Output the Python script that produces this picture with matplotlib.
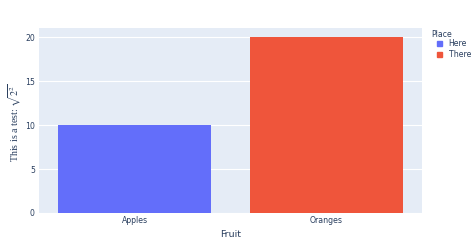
import matplotlib
matplotlib.use("Agg")
import matplotlib.pyplot as plt
from matplotlib.patches import Patch

plt.rcParams["mathtext.fontset"] = "stix"

fruits = ["Apples", "Oranges"]
places = ["Here", "There"]
amounts = [10, 20]
colors = ["#636efa", "#EF553B"]


def main() -> None:
    fig = plt.figure(figsize=(4.74, 2.52), dpi=100)
    ax = fig.add_axes([0.0823, 0.155, 0.808, 0.734])
    ax.set_facecolor("#E5ECF6")

    ax.bar(fruits, amounts, width=0.8, color=colors, zorder=2)
    ax.set_xlim(-0.5, 1.5)
    ax.set_ylim(0, 21.05)
    ax.set_yticks([0, 5, 10, 15, 20])
    ax.yaxis.grid(True, color="white", linewidth=0.8, zorder=0)
    for s in ax.spines.values():
        s.set_visible(False)
    ax.tick_params(length=0, labelsize=5.6, colors="#2a3f5f", pad=3)
    ax.tick_params(axis="x", pad=2)

    ax.set_xlabel("Fruit", fontsize=6.8, color="#2a3f5f", labelpad=4)
    ax.set_ylabel(r"This is a test: $\sqrt{2^2}$", fontsize=7.2,
                  family="Liberation Serif", color="#2a3f5f")
    ax.yaxis.set_label_coords(-0.042, 0.49)

    # legend title drawn separately so the entries sit indented below it
    fig.text(0.909, 0.855, "Place", fontsize=5.6, color="#2a3f5f")
    handles = [Patch(color=c, label=p) for c, p in zip(colors, places)]
    leg = fig.legend(handles=handles, loc="upper left",
                     bbox_to_anchor=(0.922, 0.845), frameon=False,
                     fontsize=5.6, handlelength=0.7, handleheight=0.7,
                     handletextpad=0.8, labelspacing=0.25,
                     borderaxespad=0.0, borderpad=0.0)
    for t in leg.get_texts():
        t.set_color("#2a3f5f")

    fig.savefig("out.png", dpi=100)


if __name__ == "__main__":
    main()
